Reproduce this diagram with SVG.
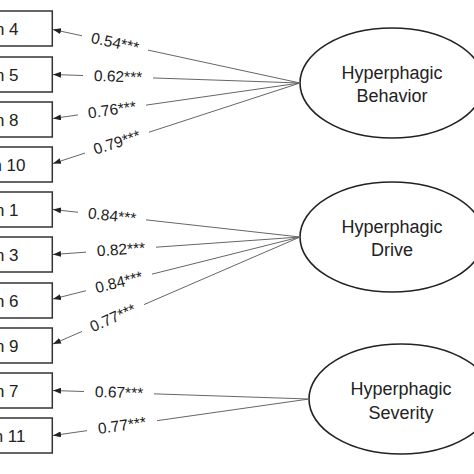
<svg xmlns="http://www.w3.org/2000/svg" width="474" height="474" viewBox="0 0 474 474">
<defs>
<style>
.box{fill:#fff;stroke:#333;stroke-width:1.5}
.ell{fill:#fff;stroke:#222;stroke-width:1.6}
.bt{font-family:"Liberation Sans",Arial,sans-serif;font-size:17px;fill:#222;text-anchor:end}
.et{font-family:"Liberation Sans",Arial,sans-serif;font-size:18px;fill:#222;text-anchor:middle}
.lt{font-family:"Liberation Sans",Arial,sans-serif;font-size:15.5px;fill:#222;text-anchor:middle}
.ln{stroke:#666;stroke-width:1;fill:none}
</style>
<marker id="ah" markerUnits="userSpaceOnUse" markerWidth="8" markerHeight="6" refX="8" refY="3" orient="auto">
<path d="M0,0 L8,3 L0,6 z" fill="#222"/>
</marker>
</defs>
<rect width="474" height="474" fill="#fff"/>
<g id="item4"><rect class="box" x="-60" y="11" width="112.3" height="35"/><text class="bt" x="18.5" y="35">Item 4</text></g>
<g id="item5"><rect class="box" x="-60" y="57" width="112.3" height="35"/><text class="bt" x="18.5" y="81">Item 5</text></g>
<g id="item8"><rect class="box" x="-60" y="102" width="112.3" height="35"/><text class="bt" x="18.5" y="126">Item 8</text></g>
<g id="item10"><rect class="box" x="-60" y="147" width="112.3" height="35"/><text class="bt" x="25.5" y="171">Item 10</text></g>
<g id="item1"><rect class="box" x="-60" y="192" width="112.3" height="35"/><text class="bt" x="18.5" y="216">Item 1</text></g>
<g id="item3"><rect class="box" x="-60" y="237" width="112.3" height="35"/><text class="bt" x="18.5" y="261">Item 3</text></g>
<g id="item6"><rect class="box" x="-60" y="283" width="112.3" height="35"/><text class="bt" x="18.5" y="307">Item 6</text></g>
<g id="item9"><rect class="box" x="-60" y="328" width="112.3" height="35"/><text class="bt" x="18.5" y="352">Item 9</text></g>
<g id="item7"><rect class="box" x="-60" y="373" width="112.3" height="35"/><text class="bt" x="18.5" y="397">Item 7</text></g>
<g id="item11"><rect class="box" x="-60" y="418" width="112.3" height="35"/><text class="bt" x="25.5" y="442">Item 11</text></g>
<g id="behavior"><ellipse class="ell" cx="392" cy="83" rx="92" ry="55"/><text class="et" x="392" y="79">Hyperphagic</text><text class="et" x="392" y="102">Behavior</text></g>
<g id="drive"><ellipse class="ell" cx="392" cy="237" rx="92" ry="55"/><text class="et" x="392" y="233">Hyperphagic</text><text class="et" x="392" y="256">Drive</text></g>
<g id="severity"><ellipse class="ell" cx="401" cy="399" rx="92" ry="55"/><text class="et" x="401" y="395">Hyperphagic</text><text class="et" x="401" y="419">Severity</text></g>
<g id="connectors">
<path class="ln" d="M300,83 L148,50.08"/><path class="ln" d="M82,35.78 L53,29.5" marker-end="url(#ah)"/>
<path class="ln" d="M300,83 L153,77.94"/><path class="ln" d="M83,75.53 L53,74.5" marker-end="url(#ah)"/>
<path class="ln" d="M300,83 L146,105.14"/><path class="ln" d="M78,114.91 L53,118.5" marker-end="url(#ah)"/>
<path class="ln" d="M300,83 L149,132.21"/><path class="ln" d="M85,153.07 L53,163.5" marker-end="url(#ah)"/>
<path class="ln" d="M300,237 L146,219.85"/><path class="ln" d="M78,212.28 L53,209.5" marker-end="url(#ah)"/>
<path class="ln" d="M300,237 L156,247.2"/><path class="ln" d="M86,252.16 L53,254.5" marker-end="url(#ah)"/>
<path class="ln" d="M300,237 L152,274.15"/><path class="ln" d="M86,290.72 L53,299" marker-end="url(#ah)"/>
<path class="ln" d="M300,237 L144,304.58"/><path class="ln" d="M82,331.44 L53,344" marker-end="url(#ah)"/>
<path class="ln" d="M309,399 L154,393.85"/><path class="ln" d="M84,391.53 L53,390.5" marker-end="url(#ah)"/>
<path class="ln" d="M309,399 L157,420.67"/><path class="ln" d="M87,430.65 L53,435.5" marker-end="url(#ah)"/>
<text class="lt" transform="translate(115,42.93) rotate(12.22)" y="5">0.54***</text>
<text class="lt" transform="translate(118,76.74) rotate(1.97)" y="5">0.62***</text>
<text class="lt" transform="translate(112,110.02) rotate(-8.18)" y="5">0.76***</text>
<text class="lt" transform="translate(117,142.64) rotate(-18.05)" y="5">0.79***</text>
<text class="lt" transform="translate(112,216.07) rotate(6.35)" y="5">0.84***</text>
<text class="lt" transform="translate(121,249.68) rotate(-4.05)" y="5">0.82***</text>
<text class="lt" transform="translate(119,282.43) rotate(-14.09)" y="5">0.84***</text>
<text class="lt" transform="translate(113,318.01) rotate(-23.42)" y="5">0.77***</text>
<text class="lt" transform="translate(119,392.69) rotate(1.9)" y="5">0.67***</text>
<text class="lt" transform="translate(122,425.66) rotate(-8.11)" y="5">0.77***</text>
</g>
</svg>
